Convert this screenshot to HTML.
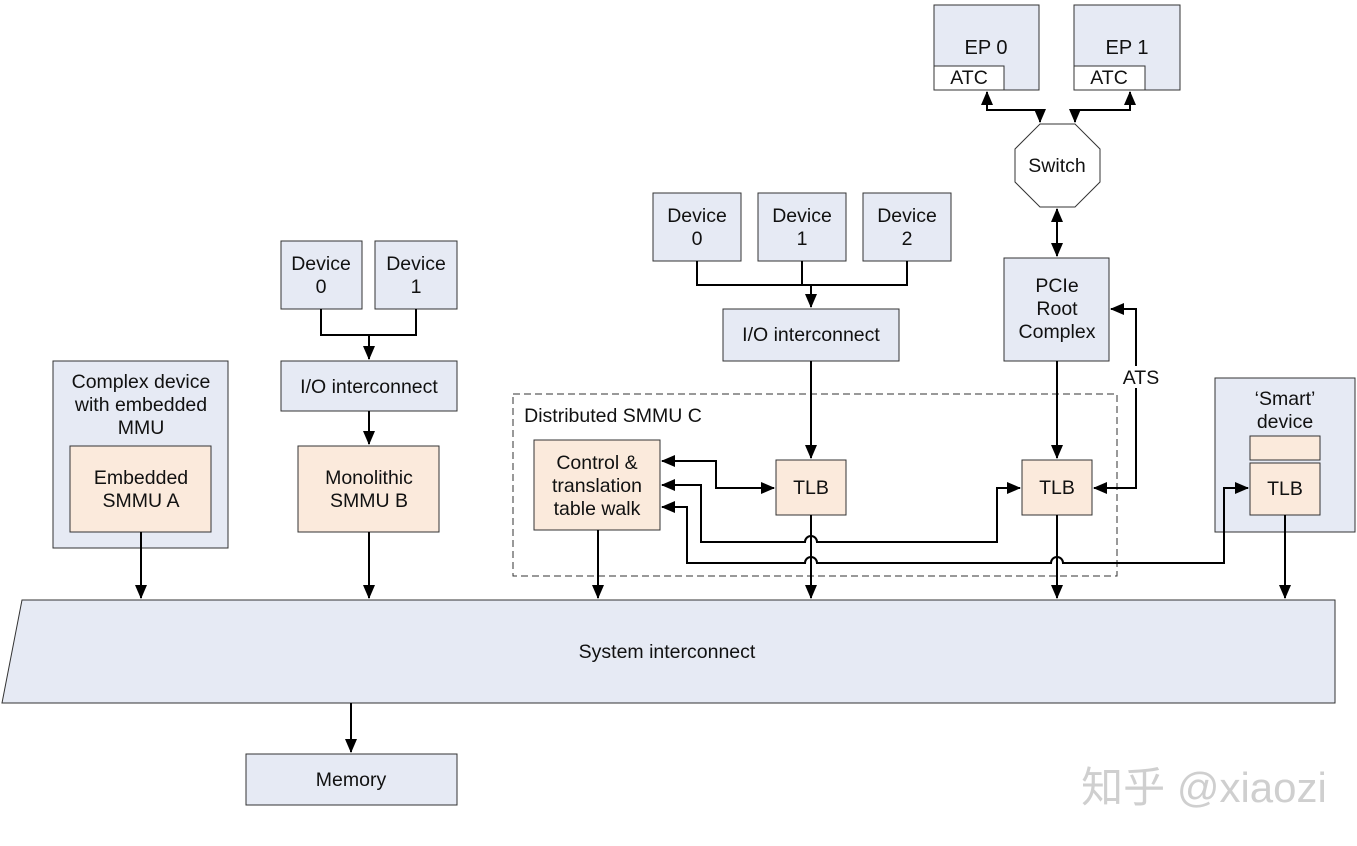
<!DOCTYPE html>
<html><head><meta charset="utf-8"><style>
body{margin:0;background:#fff}
svg text{font-family:"Liberation Sans",Arial,sans-serif;font-size:19.5px;fill:#111;text-anchor:middle}
</style></head><body>
<svg width="1357" height="841" viewBox="0 0 1357 841" xmlns="http://www.w3.org/2000/svg">
<defs>
<marker id="a" markerWidth="14" markerHeight="12" refX="13" refY="6" orient="auto" markerUnits="userSpaceOnUse"><path d="M0,0 L14,6 L0,12 z" fill="#000"/></marker>
<marker id="s" markerWidth="14" markerHeight="12" refX="1" refY="6" orient="auto" markerUnits="userSpaceOnUse"><path d="M14,0 L0,6 L14,12 z" fill="#000"/></marker>
</defs>
<g stroke="#333" stroke-width="1">
<rect x="934" y="5" width="105" height="85" fill="#e6eaf4"/>
<rect x="934" y="66" width="70" height="24" fill="#fff"/>
<rect x="1074" y="5" width="106" height="85" fill="#e6eaf4"/>
<rect x="1074" y="66" width="71" height="24" fill="#fff"/>
<polygon points="1040,124 1075,124 1100,149 1100,182 1075,207 1040,207 1015,182 1015,149" fill="#fff"/>
<rect x="1004" y="258" width="105" height="103" fill="#e6eaf4"/>
<rect x="653" y="193" width="88" height="68" fill="#e6eaf4"/>
<rect x="758" y="193" width="88" height="68" fill="#e6eaf4"/>
<rect x="863" y="193" width="88" height="68" fill="#e6eaf4"/>
<rect x="723" y="309" width="176" height="52" fill="#e6eaf4"/>
<rect x="281" y="241" width="81" height="68" fill="#e6eaf4"/>
<rect x="375" y="241" width="82" height="68" fill="#e6eaf4"/>
<rect x="281" y="361" width="176" height="50" fill="#e6eaf4"/>
<rect x="298" y="446" width="141" height="86" fill="#fbeadc"/>
<rect x="53" y="361" width="175" height="187" fill="#e6eaf4"/>
<rect x="70" y="446" width="141" height="86" fill="#fbeadc"/>
<rect x="513" y="394" width="604" height="182" fill="none" stroke-dasharray="7,4"/>
<rect x="534" y="440" width="126" height="90" fill="#fbeadc"/>
<rect x="776" y="460" width="70" height="55" fill="#fbeadc"/>
<rect x="1022" y="460" width="70" height="55" fill="#fbeadc"/>
<rect x="1215" y="378" width="140" height="154" fill="#e6eaf4"/>
<rect x="1250" y="436" width="70" height="24" fill="#fbeadc"/>
<rect x="1250" y="463" width="70" height="52" fill="#fbeadc"/>
<polygon points="22,600 1335,600 1335,703 2,703" fill="#e6eaf4"/>
<rect x="246" y="754" width="211" height="51" fill="#e6eaf4"/>
</g>
<g stroke="#000" stroke-width="2" fill="none">
<path d="M987,92 V110 H1040 V122" marker-start="url(#s)" marker-end="url(#a)"/>
<path d="M1130,92 V110 H1075 V122" marker-start="url(#s)" marker-end="url(#a)"/>
<path d="M1057,209 V256" marker-start="url(#s)" marker-end="url(#a)"/>
<path d="M1111,309 H1136 V488 H1094" marker-start="url(#s)" marker-end="url(#a)"/>
<path d="M697,261 V285 H907 V261 M802,261 V285 M811,285 V307" marker-end="url(#a)"/>
<path d="M811,361 V458" marker-end="url(#a)"/>
<path d="M1057,361 V458" marker-end="url(#a)"/>
<path d="M321,309 V335 H416 V309 M369,335 V359" marker-end="url(#a)"/>
<path d="M369,411 V444" marker-end="url(#a)"/>
<path d="M369,532 V598" marker-end="url(#a)"/>
<path d="M141,532 V598" marker-end="url(#a)"/>
<path d="M598,530 V598" marker-end="url(#a)"/>
<path d="M811,515 V598" marker-end="url(#a)"/>
<path d="M1057,515 V598" marker-end="url(#a)"/>
<path d="M1285,515 V598" marker-end="url(#a)"/>
<path d="M351,703 V752" marker-end="url(#a)"/>
<path d="M662,461 H716 V488 H774" marker-start="url(#s)" marker-end="url(#a)"/>
<path d="M662,485 H701 V542 H805 A6,6 0 0 1 817,542 H997 V488 H1020" marker-start="url(#s)" marker-end="url(#a)"/>
<path d="M662,507 H687 V563 H805 A6,6 0 0 1 817,563 H1051 A6,6 0 0 1 1063,563 H1224 V488 H1248" marker-start="url(#s)" marker-end="url(#a)"/>
</g>
<rect x="1118" y="366" width="46" height="22" fill="#fff"/>
<text x="1141" y="384">ATS</text>
<text x="986" y="54" style="font-size:20px">EP 0</text><text x="969" y="84">ATC</text>
<text x="1127" y="54" style="font-size:20px">EP 1</text><text x="1109" y="84">ATC</text>
<text x="1057" y="172">Switch</text>
<text x="1057" y="292">PCIe</text><text x="1057" y="315">Root</text><text x="1057" y="338">Complex</text>
<text x="697" y="222">Device</text><text x="697" y="245">0</text>
<text x="802" y="222">Device</text><text x="802" y="245">1</text>
<text x="907" y="222">Device</text><text x="907" y="245">2</text>
<text x="811" y="341">I/O interconnect</text>
<text x="321" y="270">Device</text><text x="321" y="293">0</text>
<text x="416" y="270">Device</text><text x="416" y="293">1</text>
<text x="369" y="393">I/O interconnect</text>
<text x="369" y="484">Monolithic</text><text x="369" y="507">SMMU B</text>
<text x="141" y="388">Complex device</text><text x="141" y="411">with embedded</text><text x="141" y="434">MMU</text>
<text x="141" y="484">Embedded</text><text x="141" y="507">SMMU A</text>
<text x="613" y="422">Distributed SMMU C</text>
<text x="597" y="469">Control &amp;</text><text x="597" y="492">translation</text><text x="597" y="515">table walk</text>
<text x="811" y="494">TLB</text><text x="1057" y="494">TLB</text><text x="1285" y="495">TLB</text>
<text x="1285" y="405">‘Smart’</text><text x="1285" y="428">device</text>
<text x="667" y="658">System interconnect</text>
<text x="351" y="786">Memory</text>
<text x="1204" y="802" style="font-size:42px;fill:#cfcfcf;font-family:'Liberation Sans','Noto Sans CJK SC',sans-serif">知乎 @xiaozi</text>
</svg>
</body></html>
